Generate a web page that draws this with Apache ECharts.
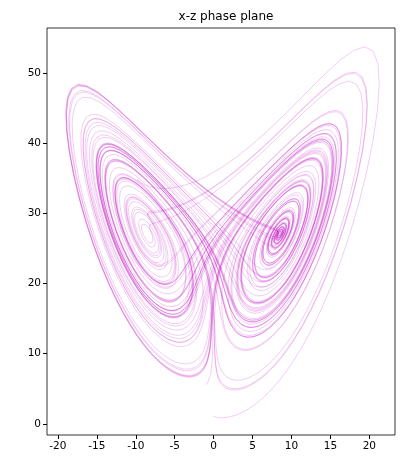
<!DOCTYPE html>
<html><head><meta charset="utf-8">
<script src="https://cdn.jsdelivr.net/npm/echarts@6/dist/echarts.min.js"></script>
<style>html,body{margin:0;padding:0;background:#fff}#c{width:412px;height:467px}</style>
</head><body><div id="c"></div>
<script>
// Lorenz system trajectory (the plotted curve is the output of this system)
const sigma = 10, rho = 28, beta = 8/3;
const initialState = [0.0, 1.0, 1.05];
const dt = 0.01, numSteps = 10000;
const xTicks = [-20,-15,-10,-5,0,5,10,15,20];
const yTicks = [0,10,20,30,40,50];
const titleText = 'x-z phase plane';

const xzPoints = [];
let [x,y,z] = initialState;
xzPoints.push([x,z]);
for (let i=0;i<numSteps;i++){
  const dx = sigma*(y-x), dy = rho*x - y - x*z, dz = x*y - beta*z;
  x += dx*dt; y += dy*dt; z += dz*dt;
  xzPoints.push([x,z]);
}

const chart = echarts.init(document.getElementById('c'));
const font = 'DejaVu Sans';
chart.setOption({
  animation:false,
  title:{text:titleText,left:221,top:6,textAlign:'center',textStyle:{fontFamily:font,fontSize:12,fontWeight:'normal',color:'#000'}},
  grid:{left:47,right:17,top:28,bottom:32,show:true,borderColor:'#000',borderWidth:0.8},
  xAxis:{type:'value',min:-21.4,max:23.3,interval:5,
    axisLine:{show:false,onZero:false},splitLine:{show:false},
    axisTick:{show:true,inside:false,length:4,lineStyle:{color:'#000'},customValues:xTicks},
    axisLabel:{fontFamily:font,fontSize:10.5,color:'#000',customValues:xTicks,margin:6}},
  yAxis:{type:'value',min:-1.6,max:56.4,
    axisLine:{show:false,onZero:false},splitLine:{show:false},
    axisTick:{show:true,inside:false,length:4,lineStyle:{color:'#000'},customValues:yTicks},
    axisLabel:{fontFamily:font,fontSize:10.5,color:'#000',customValues:yTicks,margin:6}},
  series:[{type:'line',data:xzPoints,showSymbol:false,symbol:'none',smooth:false,
    progressive:0,sampling:null,large:false,
    lineStyle:{color:'rgba(191,0,191,0.4)',width:0.5}}]
});
</script></body></html>
